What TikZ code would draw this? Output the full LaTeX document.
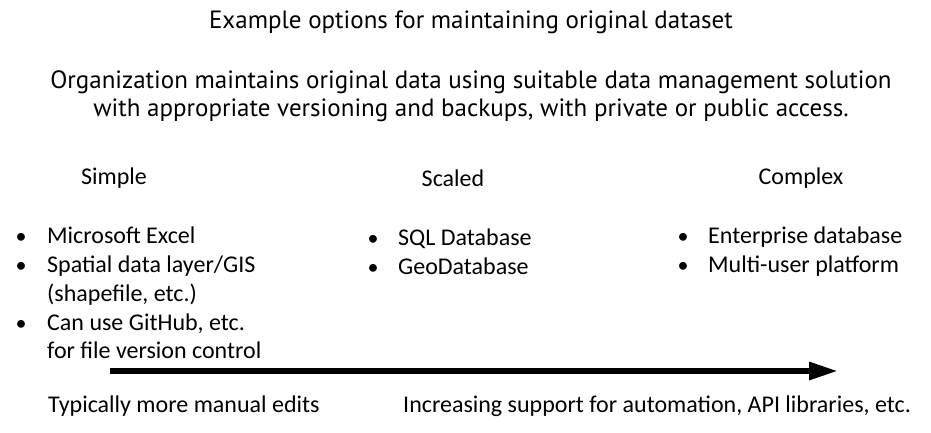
\documentclass[tikz,border=0pt]{standalone}
\usepackage{fontspec}
\setmainfont{Carlito}
\newfontfamily\headfont{PT Sans}
\usetikzlibrary{arrows.meta}

\begin{document}
\begin{tikzpicture}[x=1pt,y=-1pt,
  head/.style={font=\headfont\fontsize{25}{28}\selectfont, inner sep=0pt},
  level/.style={font=\fontsize{24}{29}\selectfont, inner sep=0pt},
  item/.style={font=\fontsize{24}{29}\selectfont, anchor=base west, inner sep=0pt},
  dot/.style={font=\fontsize{22}{29}\selectfont, anchor=base, inner sep=0pt}]
\useasboundingbox (0,0) rectangle (931,432);

% headings
\node[head] (title) at (471,22) {Example options for maintaining original dataset};
\node[head,align=center] (intro) at (471,96)
  {Organization maintains original data using suitable data management solution\\
   with appropriate versioning and backups, with private or public access.};
\node[level] (simple) at (114,178) {Simple};
\node[level] (scaled) at (453,178) {Scaled};
\node[level] (complex) at (801,178) {Complex};

% simple
\node[dot] (s1) at (21,243) {\textbullet};
\node[item] (excel) at (47,243) {Microsoft Excel};
\node[dot] (s2) at (21,272) {\textbullet};
\node[item] (gis) at (47,272) {Spatial data layer/GIS};
\node[item] (shp) at (47,301) {(shapefile, etc.)};
\node[dot] (s3) at (21,330) {\textbullet};
\node[item] (git) at (47,330) {Can use GitHub, etc.};
\node[item] (vc) at (47,358) {for file version control};

% scaled
\node[dot] (m1) at (373,245) {\textbullet};
\node[item] (sql) at (398,245) {SQL Database};
\node[dot] (m2) at (373,274) {\textbullet};
\node[item] (geo) at (398,274) {GeoDatabase};

% complex
\node[dot] (c1) at (683,243) {\textbullet};
\node[item] (ent) at (708,243) {Enterprise database};
\node[dot] (c2) at (683,272) {\textbullet};
\node[item] (multi) at (708,272) {Multi-user platform};

% arrow
\coordinate (from) at (110,371);
\coordinate (to) at (838,371);
\draw[line width=6pt,-{Triangle[length=29pt,width=17pt]}] (from) -- (to);

\node[item] (manual) at (48,412) {Typically more manual edits};
\node[item] (auto) at (403,412) {Increasing support for automation, API libraries, etc.};
\end{tikzpicture}
\end{document}
